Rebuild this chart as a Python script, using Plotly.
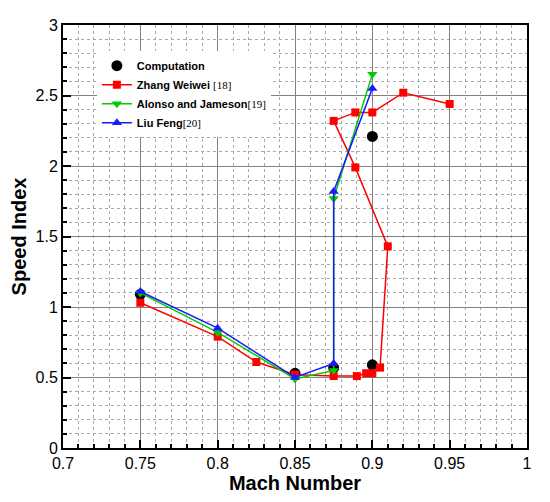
import plotly.graph_objects as go

# Computation
comp_x = [0.75, 0.85, 0.875, 0.9, 0.9]
comp_y = [1.09, 0.53, 0.57, 0.59, 2.21]

# Zhang Weiwei [18]
zhang_x = [0.75, 0.8, 0.825, 0.85, 0.875, 0.89, 0.896, 0.9, 0.905, 0.91, 0.889, 0.875, 0.889, 0.9, 0.92, 0.95]
zhang_y = [1.03, 0.79, 0.61, 0.52, 0.51, 0.51, 0.53, 0.53, 0.57, 1.43, 1.99, 2.32, 2.38, 2.38, 2.52, 2.44]

# Alonso and Jameson [19]
alonso_x = [0.75, 0.8, 0.85, 0.875, 0.875, 0.9]
alonso_y = [1.10, 0.82, 0.49, 0.55, 1.77, 2.65]

# Liu Feng [20]
liu_x = [0.75, 0.8, 0.85, 0.875, 0.875, 0.9]
liu_y = [1.11, 0.85, 0.50, 0.60, 1.82, 2.55]

ref = "<span style='font-family:Liberation Serif;font-weight:normal;font-size:11px'>%s</span>"

fig = go.Figure()
# computation drawn first so the other markers sit on top of it
fig.add_trace(go.Scatter(x=comp_x, y=comp_y, mode='markers',
                         name="<b>Computation</b>",
                         marker=dict(symbol='circle', size=11, color='black')))
fig.add_trace(go.Scatter(x=zhang_x, y=zhang_y, mode='lines+markers',
                         name="<b>Zhang Weiwei</b> " + ref % "[18]",
                         line=dict(color='#ff0000', width=1.5),
                         marker=dict(symbol='square', size=8, color='#ff0000')))
fig.add_trace(go.Scatter(x=alonso_x, y=alonso_y, mode='lines+markers',
                         name="<b>Alonso and Jameson</b>" + ref % "[19]",
                         line=dict(color='#00cc00', width=1.5),
                         marker=dict(symbol='triangle-down', size=9, color='#00cc00')))
fig.add_trace(go.Scatter(x=liu_x, y=liu_y, mode='lines+markers',
                         name="<b>Liu Feng</b>" + ref % "[20]",
                         line=dict(color='#1a1aff', width=1.5),
                         marker=dict(symbol='triangle-up', size=9, color='#1a1aff')))

axis_style = dict(showline=True, linecolor='black', linewidth=2, mirror=True,
                  showgrid=True, gridcolor='#808080', gridwidth=1,
                  ticks='inside', ticklen=8, tickwidth=2, tickcolor='black',
                  zeroline=False, automargin=False,
                  tickfont=dict(family='Liberation Sans, Arial', size=16, color='black'))

fig.update_xaxes(range=[0.7, 1.0],
                 tickvals=[0.7, 0.75, 0.8, 0.85, 0.9, 0.95, 1.0],
                 ticktext=['0.7', '0.75', '0.8', '0.85', '0.9', '0.95', '1'],
                 minor=dict(dtick=0.01, showgrid=True, gridcolor='#a8a8a8', griddash='dot',
                            ticks='inside', ticklen=4, tickcolor='black'),
                 title=dict(text='<b>Mach Number</b>', standoff=2,
                            font=dict(family='Liberation Sans, Arial', size=20, color='black')),
                 **axis_style)
fig.update_yaxes(range=[0, 3],
                 tickvals=[0, 0.5, 1, 1.5, 2, 2.5, 3],
                 ticktext=['0', '0.5', '1', '1.5', '2', '2.5', '3'],
                 minor=dict(dtick=0.1, showgrid=True, gridcolor='#a8a8a8', griddash='dot',
                            ticks='inside', ticklen=4, tickcolor='black'),
                 title=dict(text='<b>Speed Index</b>', standoff=6,
                            font=dict(family='Liberation Sans, Arial', size=20, color='black')),
                 **axis_style)

fig.update_layout(width=550, height=502,
                  margin=dict(l=55, r=31, t=17, b=62),
                  plot_bgcolor='white', paper_bgcolor='white',
                  legend=dict(x=0.073, y=0.938, xanchor='left', yanchor='top',
                              bgcolor='white', tracegroupgap=0,
                              font=dict(family='Liberation Sans, Arial', size=11, color='black')),
                  showlegend=True)

fig.write_html("out.html")
